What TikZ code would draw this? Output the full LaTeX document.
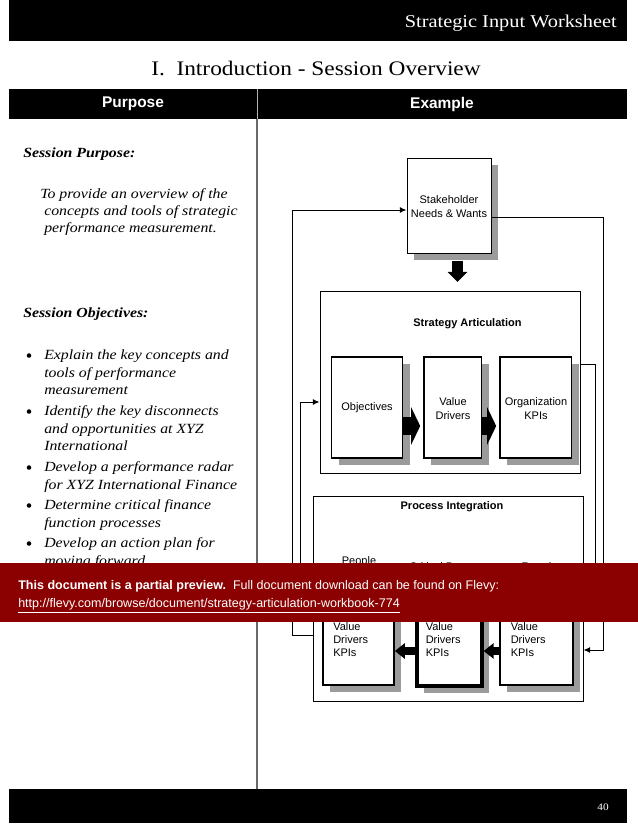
\documentclass[tikz,border=0pt]{standalone}
\usepackage{fontspec}
\newfontfamily\pal{Liberation Serif}[FakeStretch=1.13]
\newfontfamily\arial{Liberation Sans}
\usetikzlibrary{fit,shadows,arrows.meta,calc}
\definecolor{bannerred}{RGB}{139,0,0}
\definecolor{shadowgray}{RGB}{155,155,155}
\definecolor{divgray}{RGB}{105,105,105}
\tikzset{
  blackbar/.style={fill=black, inner sep=0pt},
  lefttxt/.style={anchor=base west, inner sep=0pt, font=\pal\itshape\fontsize{10.5}{13}\selectfont},
  lefthead/.style={anchor=base west, inner sep=0pt, font=\pal\itshape\bfseries\fontsize{10.5}{13}\selectfont},
  bul/.style={circle, fill=black, inner sep=0pt, minimum size=3.4pt},
  thinbox/.style={draw=black, line width=0.75pt, fill=white, inner sep=0pt},
  shbox/.style={thinbox, drop shadow={shadow xshift=5.25pt, shadow yshift=-5.25pt, fill=shadowgray, opacity=1}},
  thickbox/.style={shbox, line width=1.2pt},
  heavybox/.style={shbox, line width=2.4pt},
  lbl/.style={inner sep=0pt, font=\arial\bfseries\fontsize{8.25}{10}\selectfont},
  dtxt/.style={inner sep=0pt, align=left, font=\arial\fontsize{8.25}{10}\selectfont},
  ctxt/.style={inner sep=0pt, align=center, font=\arial\fontsize{8.25}{10.5}\selectfont},
  fb/.style={draw=black, line width=0.75pt, -{Latex[length=5pt,width=4.5pt]}},
  bigarrow/.style={draw=black, line width=13.3pt, -{Triangle[length=6.75pt,width=27.75pt]}},
  downarrow/.style={draw=black, line width=8.7pt, -{Triangle[length=7.5pt,width=14.5pt]}},
  smallarrow/.style={draw=black, line width=6pt, -{Triangle[length=7.5pt,width=11.25pt]}},
  colhead/.style={inner sep=0pt, text=white, font=\arial\bfseries\fontsize{11.6}{13}\selectfont}
}
\begin{document}
\begin{tikzpicture}[x=0.75pt,y=-0.75pt]
\useasboundingbox (0,0) rectangle (638,826);
\fill[white] (0,0) rectangle (638,826);

% top bar and titles
\node[blackbar, fit={(9,0) (627,41)}] (topbar) {};
\node[anchor=base east, inner sep=0pt, text=white, font=\pal\fontsize{13.5}{15}\selectfont] (sheet) at (617,27) {Strategic Input Worksheet};
\node[anchor=base, inner sep=0pt, font=\pal\fontsize{15.5}{18}\selectfont] (title) at (316,75) {I.\ \ Introduction - Session Overview};

% header row
\node[blackbar, fit={(9,89) (627,119)}] (headbar) {};
\draw[gray!60, line width=0.75pt] (257,89) -- (257,119);
\node[colhead] (purpose) at (133,104) {Purpose};
\node[colhead] (example) at (442,104) {Example};

% column divider and bottom bar
\draw[divgray, line width=1.5pt] (257,119) -- (257,789);
\node[blackbar, fit={(9,789) (627,823)}] (botbar) {};
\node[inner sep=0pt, text=white, font=\pal\fontsize{7.5}{9}\selectfont] (pagenum) at (603,807) {40};

% left column text
\node[lefthead] (sp) at (23,157.5) {Session Purpose:};
\node[lefttxt] (p1) at (40,198) {To provide an overview of the};
\node[lefttxt] (p2) at (44,215.5) {concepts and tools of strategic};
\node[lefttxt] (p3) at (44,232.5) {performance measurement.};
\node[lefthead] (so) at (23,317) {Session Objectives:};

\node[bul] (b1) at (29,355.5) {};
\node[lefttxt] (o1a) at (44,359.5) {Explain the key concepts and};
\node[lefttxt] (o1b) at (44,377) {tools of performance};
\node[lefttxt] (o1c) at (44,394.5) {measurement};
\node[bul] (b2) at (29,411.5) {};
\node[lefttxt] (o2a) at (44,415.5) {Identify the key disconnects};
\node[lefttxt] (o2b) at (44,433) {and opportunities at XYZ};
\node[lefttxt] (o2c) at (44,450.5) {International};
\node[bul] (b3) at (29,467.5) {};
\node[lefttxt] (o3a) at (44,471.5) {Develop a performance radar};
\node[lefttxt] (o3b) at (44,489) {for XYZ International Finance};
\node[bul] (b4) at (29,505.5) {};
\node[lefttxt] (o4a) at (44,509.5) {Determine critical finance};
\node[lefttxt] (o4b) at (44,527) {function processes};
\node[bul] (b5) at (29,543.5) {};
\node[lefttxt] (o5a) at (44,547.5) {Develop an action plan for};
\node[lefttxt] (o5b) at (44,565) {moving forward};

% ---------------- diagram ----------------
\node[shbox, fit={(407,158) (491,253)}] (stake) {};
\node[ctxt] (staketxt) at (449,206.5) {Stakeholder\\Needs \& Wants};

\node[thinbox, fit={(320,291) (580,473)}] (sa) {};
\node[lbl] (salbl) at (467.5,324) {Strategy Articulation};
\node[thickbox, fit={(331.5,357) (402.5,458)}] (obj) {};
\node[thickbox, fit={(424,357) (481.5,458)}] (vd) {};
\node[thickbox, fit={(500,357) (571.5,458)}] (kpi) {};
\node[ctxt] (objtxt) at (367,408) {Objectives};
\node[ctxt] (vdtxt) at (453,408.5) {Value\\Drivers};
\node[ctxt] (kpitxt) at (536,408.5) {Organization\\KPIs};

\node[thinbox, fit={(313,496) (583,701)}] (pi) {};
\node[lbl] (pilbl) at (452,507) {Process Integration};
\node[dtxt] (pplbl) at (359,562) {People};
\node[dtxt] (cplbl) at (447.5,567) {Critical Process};
\node[dtxt] (fnlbl) at (542.5,567) {Function};
\node[thickbox, fit={(323,583) (394,685)}] (ppl) {};
\node[heavybox, fit={(417,583) (482,686)}] (crit) {};
\node[thickbox, fit={(500,583) (573,685)}] (fn) {};
\node[dtxt, anchor=west] (ppltxt) at (333,639.5) {Value\\Drivers\\KPIs};
\node[dtxt, anchor=west] (crittxt) at (425.5,639.5) {Value\\Drivers\\KPIs};
\node[dtxt, anchor=west] (fntxt) at (510.5,639.5) {Value\\Drivers\\KPIs};

% block arrows
\coordinate (dx) at (457.5,0);
\coordinate (ay) at (0,426);
\coordinate (py) at (0,651);
\draw[downarrow, shorten <=5.25pt, shorten >=6.5pt] (stake.south -| dx) -- (sa.north -| dx);
\draw[bigarrow, shorten >=2.25pt] (obj.east |- ay) -- (vd.west |- ay);
\draw[bigarrow, shorten >=2.25pt] (vd.east |- ay) -- (kpi.west |- ay);
\draw[smallarrow] (crit.west |- py) -- (ppl.east |- py);
\draw[smallarrow] (fn.west |- py) -- (crit.east |- py);

% feedback connectors
\coordinate (rA) at (603,217);
\coordinate (rB) at (603,650);
\draw[fb] (stake.east |- rA) -- (rA) -- (rB) -- (pi.east |- rB);
\coordinate (lA) at (292,635);
\coordinate (lB) at (292,210);
\draw[fb] (pi.west |- lA) -- (lA) -- (lB) -- (stake.west |- lB);
\coordinate (mA) at (300.5,600);
\coordinate (mB) at (300.5,402);
\draw[fb] (pi.west |- mA) -- (mA) -- (mB) -- (sa.west |- mB);
\coordinate (nA) at (595,364);
\coordinate (nB) at (595,600);
\draw[fb] (sa.east |- nA) -- (nA) -- (nB) -- (pi.east |- nB);

% preview banner
\node[fill=bannerred, inner sep=0pt, fit={(0,563) (638,622)}] (banner) {};
\node[anchor=base west, inner sep=0pt, text=white, font=\arial\fontsize{9.4}{11}\selectfont] (bt1) at (18,589.5)
  {\textbf{This document is a partial preview.}\ \ Full document download can be found on Flevy:};
\node[anchor=base west, inner sep=0pt, text=white, font=\arial\fontsize{9.4}{11}\selectfont] (bt2) at (18,607.5)
  {\underline{http://flevy.com/browse/document/strategy-articulation-workbook-774}};
\end{tikzpicture}
\end{document}
